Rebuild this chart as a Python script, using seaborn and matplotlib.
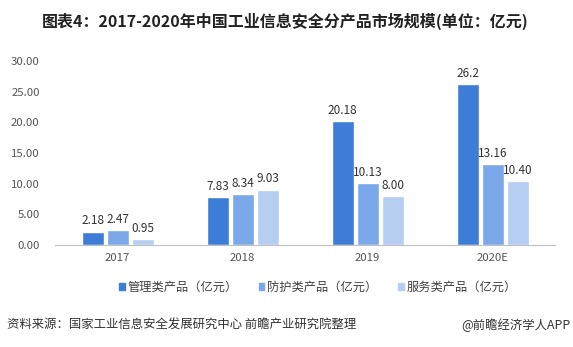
import pandas as pd
import seaborn as sns
import matplotlib.pyplot as plt

# data
years = ["2017", "2018", "2019", "2020E"]
series = ["管理类产品（亿元）", "防护类产品（亿元）", "服务类产品（亿元）"]
guanli = [2.18, 7.83, 20.18, 26.2]
fanghu = [2.47, 8.34, 10.13, 13.16]
fuwu = [0.95, 9.03, 8.00, 10.40]
labels = [["2.18", "7.83", "20.18", "26.2"],
          ["2.47", "8.34", "10.13", "13.16"],
          ["0.95", "9.03", "8.00", "10.40"]]
colors = ["#3D7DD8", "#7AA8E8", "#B5CEF2"]

df = pd.DataFrame({
    "year": years * 3,
    "series": [s for s in series for _ in years],
    "value": guanli + fanghu + fuwu,
})

sns.set_theme(style="white")
plt.rcParams["font.family"] = ["Noto Sans CJK SC", "DejaVu Sans"]

fig = plt.figure(figsize=(5.73, 3.47), dpi=100)
ax = fig.add_axes([0.096, 0.294, 0.873, 0.530])

sns.barplot(data=df, x="year", y="value", hue="series", palette=colors,
            saturation=1, width=0.6, gap=0.12, ax=ax, legend=False)

for cont, lab in zip(ax.containers, labels):
    ax.bar_label(cont, labels=lab, padding=3, fontsize=8.5, color="#333333")

ax.set_ylim(0, 30)
ax.set_yticks([0, 5, 10, 15, 20, 25, 30])
ax.set_yticklabels([f"{v:.2f}" for v in [0, 5, 10, 15, 20, 25, 30]])
ax.set_xlim(-0.5, 3.5)
ax.set_xlabel("")
ax.set_ylabel("")
ax.tick_params(axis="both", labelsize=8.2, colors="#555555", length=0)
ax.tick_params(axis="x", pad=6)
ax.tick_params(axis="y", pad=11)
for s in ["top", "right", "left"]:
    ax.spines[s].set_visible(False)
ax.spines["bottom"].set_color("#BFBFBF")
ax.spines["bottom"].set_linewidth(0.8)

handles = [plt.Rectangle((0, 0), 1, 1, color=c) for c in colors]
fig.legend(handles, series, loc="center", bbox_to_anchor=(0.555, 0.172), ncol=3,
           frameon=False, fontsize=8.8, handlelength=0.45, handleheight=0.45,
           handletextpad=0.25, columnspacing=1.7, labelcolor="#404040")

fig.text(0.497, 0.937, "图表4：2017-2020年中国工业信息安全分产品市场规模(单位：亿元)",
         ha="center", va="center", fontsize=11.5, fontweight="bold", color="#222222")
fig.text(0.012, 0.063, "资料来源：国家工业信息安全发展研究中心 前瞻产业研究院整理",
         ha="left", va="center", fontsize=8.9, color="#333333")
fig.text(0.995, 0.063, "@前瞻经济学人APP",
         ha="right", va="center", fontsize=8.9, color="#333333")

fig.savefig("out.png", dpi=100, facecolor="white")
